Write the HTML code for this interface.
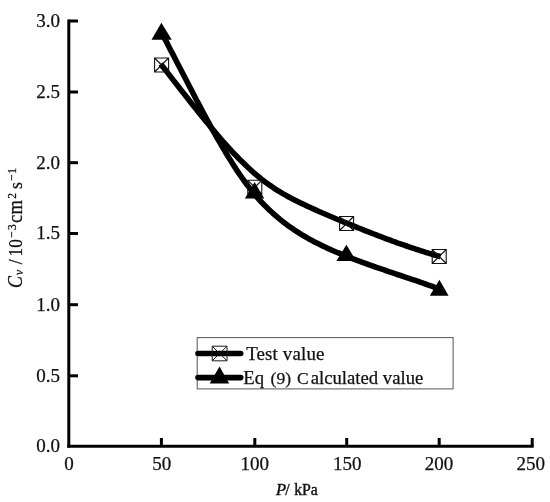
<!DOCTYPE html>
<html><head><meta charset="utf-8">
<style>
html,body{margin:0;padding:0;background:#fff;}
body{width:550px;height:502px;overflow:hidden;}
svg{display:block;}
text{font-family:"Liberation Serif",serif;fill:#111;stroke:#111;stroke-width:0.25px;}
</style></head><body>
<svg width="550" height="502" viewBox="0 0 550 502">
<rect width="550" height="502" fill="#fff"/>
<!-- axes -->
<g stroke="#000" stroke-width="3" fill="none" stroke-linecap="butt">
<path d="M68.8 19.5V447.5"/>
<path d="M67.3 446.2H533.7"/>
<path d="M68.8 21H78"/><path d="M68.8 92H78"/><path d="M68.8 162.7H78"/><path d="M68.8 233.5H78"/><path d="M68.8 304.7H78"/><path d="M68.8 375.8H78"/>
<path d="M161.4 446V438"/><path d="M254.8 446V438"/><path d="M346.7 446V438"/><path d="M439.2 446V438"/><path d="M532.2 446V438"/>
</g>
<!-- y tick labels -->
<g font-size="19" text-anchor="end" transform="translate(0.2 0.2)">
<text x="59.7" y="26.8">3.0</text>
<text x="59.7" y="97.4">2.5</text>
<text x="59.7" y="168.5">2.0</text>
<text x="59.7" y="239.3">1.5</text>
<text x="59.7" y="310.7">1.0</text>
<text x="59.7" y="381.8">0.5</text>
<text x="59.7" y="451.8">0.0</text>
</g>
<g font-size="19" text-anchor="middle" transform="translate(0 0.2)">
<text x="69.1" y="470.2">0</text>
<text x="161.7" y="470.2">50</text>
<text x="254.7" y="470.2">100</text>
<text x="347.3" y="470.2">150</text>
<text x="438.9" y="470.2">200</text>
<text x="530.7" y="470.2">250</text>
</g>
<text y="495.3" font-size="15.8" style="stroke-width:0.4px"><tspan x="276.1" font-style="italic" font-size="16.5">P</tspan><tspan x="285.2">/ </tspan><tspan x="294.2">kPa</tspan></text>
<text transform="translate(22.4 287) rotate(-90) scale(1 1.13)" font-size="17.6"><tspan x="-1" y="0" font-style="italic" font-size="17.8">C</tspan><tspan x="12" y="0.5" font-style="italic" font-size="11.6">v </tspan><tspan x="22.7" y="0">/</tspan><tspan x="30.6" y="0" font-size="17.2">10</tspan><tspan x="48.9" y="-5.8" font-size="11.5">−</tspan><tspan x="57" y="-5.8" font-size="11.5">3</tspan><tspan x="63.9" y="0" font-size="18.4" letter-spacing="0.5">cm</tspan><tspan x="88.2" y="-5.8" font-size="11.5">2 </tspan><tspan x="98" y="0">s</tspan><tspan x="106" y="-5.8" font-size="11.5">−</tspan><tspan x="113.3" y="-5.8" font-size="11.5">1</tspan></text>
<!-- curves -->
<g fill="none" stroke="#000" stroke-width="5.6" stroke-linecap="butt" stroke-linejoin="round">
<polyline id="c1" points="160.7,64.0 161.5,65.0 163.8,68.0 166.2,70.9 168.5,73.9 170.8,76.9 173.2,79.9 175.5,82.9 177.8,85.9 180.2,88.9 182.5,91.9 184.8,94.8 187.2,97.8 189.5,100.8 191.8,103.7 194.2,106.7 196.5,109.6 198.8,112.5 201.2,115.4 203.5,118.3 205.8,121.2 208.2,124.0 210.5,126.8 212.8,129.6 215.2,132.4 217.5,135.1 219.8,137.8 222.2,140.5 224.5,143.1 226.8,145.7 229.2,148.3 231.5,150.8 233.8,153.3 236.2,155.8 238.5,158.2 240.8,160.5 243.2,162.8 245.5,165.1 247.8,167.3 250.2,169.5 252.5,171.6 254.8,173.6 257.2,175.6 259.5,177.5 261.8,179.4 264.2,181.2 266.5,182.9 268.8,184.6 271.2,186.2 273.5,187.8 275.8,189.3 278.2,190.8 280.5,192.2 282.8,193.6 285.2,194.9 287.5,196.2 289.8,197.5 292.2,198.7 294.5,199.9 296.8,201.1 299.2,202.2 301.5,203.4 303.9,204.5 306.2,205.6 308.5,206.7 310.9,207.8 313.2,208.9 315.5,209.9 317.9,211.0 320.2,212.0 322.5,213.0 324.9,214.0 327.2,215.0 329.5,216.0 331.9,217.0 334.2,218.0 336.5,219.0 338.9,220.0 341.2,220.9 343.5,221.9 345.9,222.8 348.2,223.8 350.5,224.7 352.9,225.7 355.2,226.6 357.5,227.6 359.9,228.5 362.2,229.4 364.5,230.4 366.9,231.3 369.2,232.2 371.5,233.1 373.9,234.0 376.2,234.9 378.5,235.8 380.9,236.7 383.2,237.6 385.5,238.5 387.9,239.3 390.2,240.2 392.5,241.1 394.9,241.9 397.2,242.8 399.5,243.6 401.9,244.4 404.2,245.2 406.5,246.0 408.9,246.8 411.2,247.6 413.5,248.4 415.9,249.2 418.2,249.9 420.5,250.7 422.9,251.4 425.2,252.2 427.5,252.9 429.9,253.6 432.2,254.3 434.5,255.0 436.9,255.6 439.2,256.3 440.5,256.7"/>
<polyline id="c2" points="161.5,32.5 163.8,36.9 166.2,41.4 168.5,45.9 170.8,50.4 173.2,54.9 175.5,59.4 177.8,63.9 180.2,68.5 182.5,73.0 184.9,77.5 187.2,82.0 189.5,86.5 191.9,91.0 194.2,95.5 196.5,100.0 198.9,104.4 201.2,108.8 203.5,113.2 205.9,117.5 208.2,121.8 210.5,126.1 212.9,130.3 215.2,134.5 217.5,138.6 219.9,142.6 222.2,146.6 224.6,150.6 226.9,154.5 229.2,158.3 231.6,162.0 233.9,165.7 236.2,169.3 238.6,172.8 240.9,176.2 243.2,179.5 245.6,182.7 247.9,185.9 250.2,188.9 252.6,191.9 254.9,194.7 257.2,197.4 259.6,200.0 261.9,202.6 264.3,205.0 266.6,207.3 268.9,209.6 271.3,211.8 273.6,213.9 275.9,215.9 278.3,217.9 280.6,219.8 282.9,221.7 285.3,223.5 287.6,225.2 289.9,226.9 292.3,228.5 294.6,230.1 296.9,231.6 299.3,233.1 301.6,234.6 304.0,236.0 306.3,237.3 308.6,238.7 311.0,239.9 313.3,241.2 315.6,242.4 318.0,243.6 320.3,244.7 322.6,245.9 325.0,247.0 327.3,248.1 329.6,249.1 332.0,250.2 334.3,251.2 336.6,252.2 339.0,253.2 341.3,254.1 343.7,255.1 346.0,256.0 348.3,257.0 350.7,257.9 353.0,258.8 355.3,259.7 357.7,260.6 360.0,261.4 362.3,262.3 364.7,263.2 367.0,264.0 369.3,264.8 371.7,265.7 374.0,266.5 376.3,267.3 378.7,268.1 381.0,268.9 383.4,269.7 385.7,270.5 388.0,271.3 390.4,272.1 392.7,272.9 395.0,273.7 397.4,274.5 399.7,275.2 402.0,276.0 404.4,276.8 406.7,277.6 409.0,278.4 411.4,279.2 413.7,279.9 416.0,280.7 418.4,281.5 420.7,282.3 423.1,283.2 425.4,284.0 427.7,284.8 430.1,285.6 432.4,286.4 434.7,287.3 437.1,288.1 439.4,289.0"/>
</g>
<!-- markers -->
<g id="sq" fill="none" stroke="#111" stroke-width="1.1">
<g transform="translate(161.6 65)"><path d="M-7 -7H7V7H-7ZM-7 -7L7 7M7 -7L-7 7"/></g>
<g transform="translate(254.8 187.3)"><path d="M-7 -7H7V7H-7ZM-7 -7L7 7M7 -7L-7 7"/></g>
<g transform="translate(346.6 223.5)"><path d="M-7 -7H7V7H-7ZM-7 -7L7 7M7 -7L-7 7"/></g>
<g transform="translate(439.2 256.5)"><path d="M-7 -7H7V7H-7ZM-7 -7L7 7M7 -7L-7 7"/></g>
</g>
<g fill="#000">
<path d="M161.4 22.7L171.8 39.8H151.5Z"/>
<path d="M254.6 182L264.3 198.5H244.9Z"/>
<path d="M346.4 244.8L356.2 261H336.4Z"/>
<path d="M439.4 279.7L448.6 295.7H429.8Z"/>
</g>
<!-- legend -->
<rect x="197.2" y="337.6" width="255.9" height="51.3" fill="#fff" stroke="#555" stroke-width="1"/>
<g stroke="#000" stroke-width="5.6" stroke-linecap="round">
<path d="M198 353.5H240.7"/><path d="M198 377.6H240.7"/>
</g>
<path d="M212.2 346.2H227V360.8H212.2ZM212.2 346.2L227 360.8M227 346.2L212.2 360.8" fill="none" stroke="#1a1a1a" stroke-width="1"/>
<path d="M219.5 366.6L229.2 383.4H209.7Z" fill="#000"/>
<text x="246.2" y="359.8" font-size="18.9" letter-spacing="0.15">Test value</text>
<text y="384.4" font-size="18.7"><tspan x="243.3">Eq </tspan><tspan x="270.6" font-size="17.6">(9) </tspan><tspan x="296.9" font-size="17.4">C</tspan><tspan x="310.7">alculated value</tspan></text>
</svg>
</body></html>
